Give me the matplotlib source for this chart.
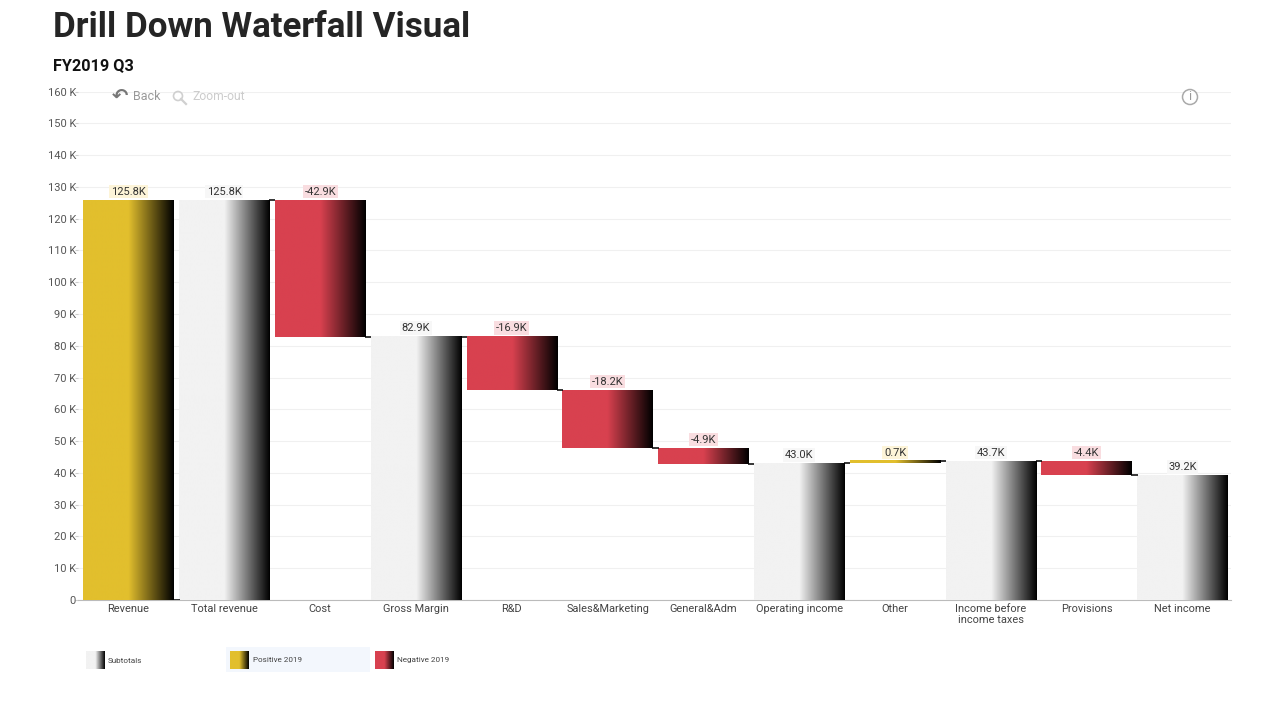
#!/usr/bin/env python3
"""Drill down waterfall for FY2019 Q3, gradient filled bars."""

import matplotlib
matplotlib.use("Agg")
import matplotlib.pyplot as plt
import numpy as np
from matplotlib.colors import LinearSegmentedColormap
from matplotlib.patches import Circle, Rectangle

plt.rcParams['font.family'] = ['Roboto', 'DejaVu Sans']

categories = ['Revenue', 'Total revenue', 'Cost', 'Gross Margin', 'R&D', 'Sales&Marketing',
              'General&Adm', 'Operating income', 'Other', 'Income before\nincome taxes',
              'Provisions', 'Net income']
values = [125.8, 125.8, -42.9, 82.9, -16.9, -18.2, -4.9, 43.0, 0.7, 43.7, -4.4, 39.2]
kinds = ['positive', 'total', 'delta', 'total', 'delta', 'delta', 'delta', 'total', 'delta',
         'total', 'delta', 'total']
connector_levels = [0, 125.8, 82.9, 82.9, 66.0, 47.8, 42.9, 43.0, 43.7, 43.7, 39.3]
y_ticks = list(range(0, 170, 10))

BASE = {'total': '#f2f2f2', 'pos': '#e2bf2d', 'neg': '#d8414f'}
LABEL_BG = {'total': '#f7f7f7', 'pos': '#fdf4d8', 'neg': '#f9dde0'}


def fade_cmap(color):
    return LinearSegmentedColormap.from_list('fade', [(0, color), (0.5, color), (1, 'black')])


def color_key(kind, value):
    if kind == 'total':
        return 'total'
    return 'pos' if value >= 0 else 'neg'


def gradient_rect(ax, x0, x1, y0, y1, color, zorder=3):
    grad = np.linspace(0, 1, 256).reshape(1, -1)
    ax.imshow(grad, extent=(x0, x1, y0, y1), aspect='auto', cmap=fade_cmap(color),
              vmin=0, vmax=1, zorder=zorder, interpolation='bilinear')


fig = plt.figure(figsize=(12.8, 7.2), dpi=100)
W, H = 1280, 720
ax = fig.add_axes([78 / W, 1 - 600 / H, (1231 - 78) / W, (600 - 91.5) / H])

# waterfall bars
bar_width = 0.945
running = 0
for i, (val, kind) in enumerate(zip(values, kinds)):
    key = color_key(kind, val)
    if kind == 'delta':
        bottom, top = sorted((running, running + val))
        running += val
    else:
        bottom, top = 0, val
        running = val
    gradient_rect(ax, i - bar_width / 2, i + bar_width / 2, bottom, top, BASE[key])
    ax.annotate(f'{val:.1f}K', (i, top), xytext=(0, 2.5), textcoords='offset points', ha='center',
                va='bottom', fontsize=8, color='#333333', zorder=5,
                bbox=dict(boxstyle='square,pad=0.15', fc=LABEL_BG[key], ec='none'))

# little connectors in the gaps
for i, level in enumerate(connector_levels):
    ax.hlines(level, i + bar_width / 2 - 0.005, i + 1 - bar_width / 2 + 0.005,
              color='black', lw=1.1, zorder=4)

ax.set_xlim(-0.527, 11.506)
ax.set_ylim(0, 160)
ax.set_yticks(y_ticks)
ax.set_yticklabels(['0' if t == 0 else f'{t} K' for t in y_ticks], fontsize=8, color='#555555')
ax.set_xticks(range(len(categories)))
ax.set_xticklabels(categories, fontsize=7.9, color='#444444', linespacing=1.05)
ax.tick_params(axis='x', length=0, pad=3)
ax.tick_params(axis='y', length=2, width=0.8, color='#cccccc', pad=-0.5)
ax.grid(axis='y', color='#f0f0f0', lw=0.8)
ax.set_axisbelow(True)
for name, spine in ax.spines.items():
    spine.set_visible(name == 'bottom')
ax.spines['bottom'].set_color('#bbbbbb')

# overlay in pixel coordinates for title, toolbar and legend
over = fig.add_axes([0, 0, 1, 1], facecolor='none')
over.set_xlim(0, W)
over.set_ylim(H, 0)
over.axis('off')

over.text(53, 27.5, 'Drill Down Waterfall Visual', fontsize=25.2, fontweight='bold',
          color='#252525', va='center')
over.text(53, 65.5, 'FY2019 Q3', fontsize=11.7, fontweight='bold', color='#111111', va='center')

over.text(120, 96, '\u21b6', fontsize=14, fontweight='bold', color='#777777', ha='center',
          va='center', family='DejaVu Sans')
over.text(133, 97, 'Back', fontsize=9, color='#999999', va='center')
over.add_patch(Circle((178, 96), 4.5, fc='none', ec='#d0d0d0', lw=1.2))
over.plot([181, 186], [99, 104], color='#d0d0d0', lw=1.6)
over.text(192, 97, 'Zoom-out', fontsize=8.7, color='#cccccc', va='center')
over.add_patch(Circle((1190, 97), 7.5, fc='white', ec='#aaaaaa', lw=1.1))
over.text(1190, 97, 'i', fontsize=9, color='#999999', ha='center', va='center')

# legend
over.add_patch(Rectangle((226, 647), 144, 25, fc='#f3f7fd', ec='none'))
legend_items = [('Subtotals', 'total', 86, 108, 661), ('Positive 2019', 'pos', 230, 253, 660),
                ('Negative 2019', 'neg', 375, 397, 660)]
for label, key, x0, tx, ty in legend_items:
    gradient_rect(over, x0, x0 + 18.5, 669, 651, BASE[key])
    over.text(tx, ty, label, fontsize=5.9, color='#444444', va='center')
over.set_xlim(0, W)
over.set_ylim(H, 0)

fig.savefig('out.png', dpi=100)
